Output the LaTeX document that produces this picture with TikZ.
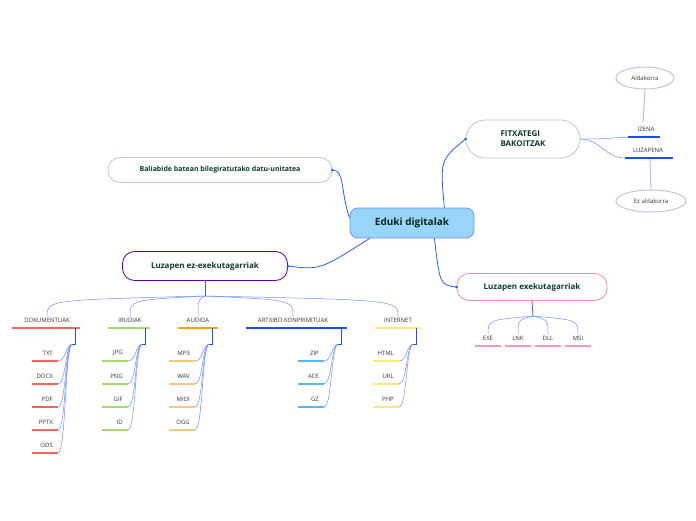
\documentclass[tikz,border=0pt]{standalone}
\usepackage{fontspec}
\setmainfont{Open Sans}
\usetikzlibrary{shapes.geometric}
\definecolor{ln}{HTML}{2D5BF0}
\definecolor{lnl}{HTML}{6E8FF5}
\definecolor{dg}{HTML}{0E3B2C}
\definecolor{cred}{HTML}{F0665C}
\definecolor{cgrn}{HTML}{A8D86E}
\definecolor{corg}{HTML}{F5A020}
\definecolor{corl}{HTML}{F8C77E}
\definecolor{cblu}{HTML}{1A4EF0}
\definecolor{cbll}{HTML}{55B8F5}
\definecolor{cyel}{HTML}{FBE878}
\definecolor{cpnk}{HTML}{F59AB8}
\definecolor{clav}{HTML}{C6BFE6}
\tikzset{
 x=1pt,y=-1pt,
 main/.style={rounded corners=8pt,draw=lnl!30!cblu!70!white,line width=0.8pt,fill=cbll!60!white,minimum width=124pt,minimum height=30pt,font=\fontsize{10}{12}\selectfont\bfseries,text=dg!60!black},
 topic/.style={rounded corners=12pt,line width=0.8pt,fill=white,font=\fontsize{8}{10}\selectfont\bfseries,text=dg},
 lab/.style={font=\fontsize{6}{7}\selectfont,text=black!80,inner sep=1pt},
 ul/.style={line width=1.6pt},
 con/.style={draw=ln,line width=0.8pt},
 thin/.style={draw=lnl,line width=0.5pt},
 ell/.style={ellipse,draw=clav,line width=1pt,fill=white,font=\fontsize{6}{7}\selectfont,text=black!80}
}
\begin{document}
\begin{tikzpicture}
\useasboundingbox (0,0) rectangle (696,520);
% central
\node[main] (c) at (412,223) {Eduki digitalak};
\node[topic,draw=clav,minimum width=114pt,minimum height=38pt,align=left,rounded corners=19pt] (f) at (523,139) {FITXATEGI\\BAKOITZAK};
\node[topic,draw=clav,minimum width=224pt,minimum height=25pt] (b) at (220,170) {\fontsize{7}{8}\selectfont Baliabide batean bilegiratutako datu-unitatea};
\node[topic,draw=violet!70!blue,minimum width=165pt,minimum height=29pt] (ne) at (205,266) {Luzapen ez-exekutagarriak};
\node[topic,draw=cpnk!90!red,minimum width=150pt,minimum height=27pt] (ex) at (532,287) {Luzapen exekutagarriak};
\draw[con] (c.north east)++(-30,0) .. controls (440,160) .. (f.west);
\fill[ln] (f.west) circle (1.5pt);
\draw[con] (c.west)++(0,-5) .. controls (340,190) and (345,170) .. (b.east);
\fill[ln] (b.east) circle (1.5pt);
\draw[con] (c.south west)++(20,0) .. controls (320,270) .. (ne.east);
\fill[ln] (ne.east) circle (1.5pt);
\draw[con] (c.south east)++(-40,0) .. controls (440,285) .. (ex.west);
\fill[ln] (ex.west) circle (1.5pt);
% FITXATEGI right
\coordinate (iz) at (628,137); \coordinate (lu) at (625,158);
\draw[ul,cblu] (iz) -- (660,137); \node[lab] (izl) at (646,129) {IZENA};
\draw[ul,cblu] (lu) -- (673,158); \node[lab] (lul) at (648,150) {LUZAPENA};
\draw[thin] (f.east) .. controls (600,139) .. (iz);
\draw[thin] (f.east) .. controls (600,139) and (605,158) .. (lu);
\node[ell,minimum width=58pt,minimum height=22pt] (al) at (645,78) {Aldakorra};
\node[ell,minimum width=70pt,minimum height=22pt] (ez) at (651,201) {Ez aldakorra};
\draw[clav!70!blue!60,line width=1pt] (al.south) -- (643,122);
\draw[clav!70!blue!60,line width=1pt] (650,159) -- (ez.north);
% exekutagarriak
\coordinate (exh) at (533,316);
\draw[con] (ex.south) -- (exh);
\foreach \n/\t/\x in {e1/EXE/488,e2/LNK/518,e3/DLL/548,e4/MSI/578}{
 \node[lab] (\n) at (\x,338) {\t};
 \draw[ul,cpnk] (\x-13,346) -- (\x+13,346);
 \draw[thin] (exh) .. controls (\x,320) .. (\n.north);
}
% ez-exekutagarriak
\coordinate (neh) at (205,296);
\draw[con] (ne.south) -- (neh);
\foreach \n/\t/\x/\a/\b/\col in {dk/DOKUMENTUAK/47/12/80/cred, ir/IRUDIAK/130/108/150/cgrn, au/AUDIOA/198/178/218/corg, ar/{ARTXIBO KONPRIMITUAK}/293/246/347/cblu, in/INTERNET/398/375/421/cyel}{
 \node[lab] (\n) at (\x,320) {\t};
 \draw[ul,\col] (\a,328) -- (\b,328);
 \draw[thin] (neh) .. controls (\x,300) .. (\n.north);
}
% items
\foreach \bx/\ex/\col/\list in {75/58/cred/{TXT,DOCX,PDF,PPTX,ODS}, 145/128/cgrn/{JPG,PNG,GIF,ID}, 212/195/corl/{MP3,WAV,MIDI,OGG}, 341/324/cbll/{ZIP,ACE,GZ}, 416/399/cyel/{HTML,URL,PHP}}{
 \draw[cblu,line width=0.8pt] (\bx,328) -- (\bx,344) -- (\bx-3,344);
 \foreach \it [count=\i] in \list {
  \pgfmathsetmacro{\yy}{330+23*\i}
  \node[lab,anchor=east] (it) at (\ex-4,\yy) {\it};
  \draw[ul,\col] (\ex-26,\yy+8) -- (\ex,\yy+8);
  \draw[thin] (\bx-3,344) .. controls (\bx-10,346) and (\ex+8,\yy+8) .. (\ex,\yy+8);
 }
}
\end{tikzpicture}
\end{document}
